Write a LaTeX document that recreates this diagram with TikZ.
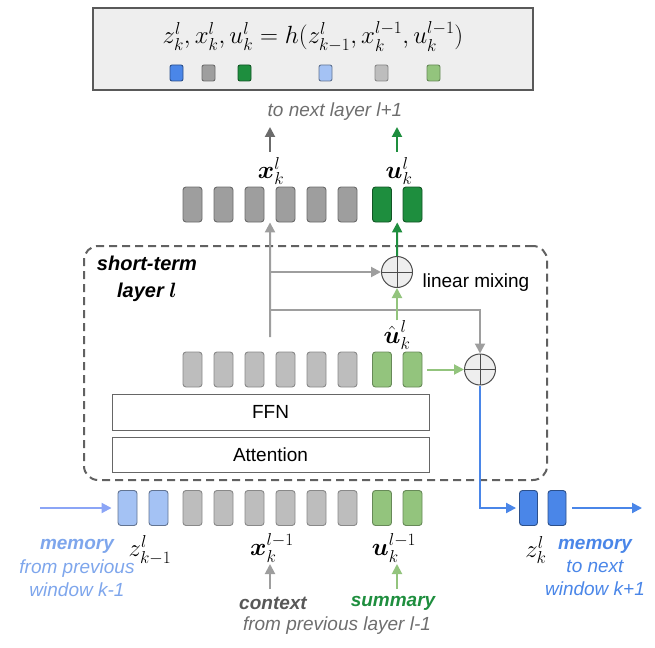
\documentclass[tikz,border=0pt]{standalone}
\usepackage{amsmath,amssymb}
\usepackage{fontspec}
\setmainfont{Liberation Sans}
\usepackage{tikz}
\usetikzlibrary{arrows.meta, positioning, calc}
\definecolor{grisCel}{HTML}{9E9E9E}
\definecolor{grisClaro}{HTML}{BDBDBD}
\definecolor{grisBorde}{HTML}{6B6B6B}
\definecolor{grisTexto}{HTML}{6E6E6E}
\definecolor{verdeOsc}{HTML}{1E8E3E}
\definecolor{verdeClaro}{HTML}{93C47D}
\definecolor{azulOsc}{HTML}{4A86E8}
\definecolor{azulClaro}{HTML}{A4C2F4}
\definecolor{azulTexto}{HTML}{7EA6EC}
\definecolor{fondoGris}{HTML}{EEEEEE}

\begin{document}
\begin{tikzpicture}[x=1pt, y=-1pt,
  txt/.style={font=\fontsize{19}{23.5}\selectfont, inner sep=0pt, align=center},
  mathlbl/.style={font=\fontsize{24}{28}\selectfont, inner sep=0pt},
  cell/.style={rectangle, rounded corners=3pt, minimum width=19pt,
               minimum height=35pt, inner sep=0pt, line width=0.9pt},
  cgris/.style={cell, fill=grisCel, draw=grisBorde},
  cgrisL/.style={cell, fill=grisClaro, draw=grisBorde!80},
  cverde/.style={cell, fill=verdeOsc, draw=verdeOsc!60!black},
  cverdeL/.style={cell, fill=verdeClaro, draw=verdeClaro!70!black},
  cazul/.style={cell, fill=azulOsc, draw=azulOsc!60!black},
  cazulL/.style={cell, fill=azulClaro, draw=azulClaro!60!black},
  mini/.style={minimum width=13pt, minimum height=16pt, rounded corners=2pt},
  capa/.style={rectangle, draw=white!40!black, fill=white, line width=0.9pt,
               font=\fontsize{19}{23}\selectfont},
  mixer/.style={circle, draw=black!70, fill=fondoGris, minimum size=31pt,
                inner sep=0pt, line width=1pt,
                path picture={\draw[black!70, line width=1pt]
                  (path picture bounding box.north) -- (path picture bounding box.south)
                  (path picture bounding box.west) -- (path picture bounding box.east);}},
  arrow/.style={-{Triangle[length=10pt, width=10pt]}, line width=2pt}
]
\useasboundingbox (0,0) rectangle (655,647);

% Ecuacion (arriba)
\node[rectangle, draw=black!65, fill=fondoGris, line width=2pt,
      minimum width=440pt, minimum height=82pt] (ecu) at (313,49) {};
\node[mathlbl, font=\fontsize{25}{29}\selectfont] (formula) at (313,37)
  {$z^l_k, x^l_k, u^l_k = h(z^l_{k-1}, x^{l-1}_k, u^{l-1}_k)$};
\foreach \n/\x/\s in {1/176.5/cazul, 2/208.5/cgris, 3/244.5/cverde,
                      4/325.5/cazulL, 5/381.5/cgrisL, 6/433.5/cverdeL}
  \node[\s, mini] (l\n) at (\x,73) {};

% Capa de corto plazo
\node[rectangle, draw=black!62, dash pattern=on 8pt off 5pt, line width=2pt,
      rounded corners=14pt, minimum width=463pt, minimum height=234pt] (capaL) at (315.5,363) {};
\node[txt, font=\fontsize{20}{27}\selectfont\bfseries\itshape] (nombre) at (147,279)
  {short-term\\layer $\boldsymbol{l}$};
\node[capa, minimum width=317pt, minimum height=36pt] (ffn) at (270.5,412) {FFN};
\node[capa, minimum width=317pt, minimum height=35pt] (att) at (270.5,454.5) {Attention};

% Filas de celdas
\foreach \i/\x in {1/192.5, 2/223.5, 3/254.5, 4/285.5, 5/316.5, 6/347.5} {
  \node[cgris]  (t\i) at (\x,204.5) {};
  \node[cgrisL] (m\i) at (\x,369.5) {};
  \node[cgrisL] (b\i) at (\x,508) {};
}
\foreach \i/\x in {7/382, 8/412.5} {
  \node[cverde]  (t\i) at (\x,204.5) {};
  \node[cverdeL] (m\i) at (\x,369.5) {};
  \node[cverdeL] (b\i) at (\x,508) {};
}
\node[cazulL] (z1) at (127.5,508) {};
\node[cazulL] (z2) at (158.5,508) {};
\node[cazul, minimum width=18pt] (o1) at (528.5,508) {};
\node[cazul, minimum width=18pt] (o2) at (557,508) {};

% Mezcla
\node[mixer] (mix1) at (397,272) {};
\node[mixer] (mix2) at (480,369.5) {};
\node[txt] (mixtxt) at (476,283) {linear mixing};
\node[mathlbl] (uhat) at (397,335) {$\hat{\boldsymbol{u}}^l_k$};

% Etiquetas de salida
\node[mathlbl] (xout) at (271,171) {$\boldsymbol{x}^l_k$};
\node[mathlbl] (uout) at (399,171) {$\boldsymbol{u}^l_k$};
\node[txt, text=grisTexto, font=\fontsize{19}{23}\selectfont\itshape] (sig) at (335,112)
  {to next layer $\mathit{l}$+1};

% Etiquetas de entrada
\node[mathlbl] (zprev) at (150,550) {$z^l_{k-1}$};
\node[mathlbl] (xprev) at (272,548) {$\boldsymbol{x}^{l-1}_k$};
\node[mathlbl] (uprev) at (394,548) {$\boldsymbol{u}^{l-1}_k$};
\node[mathlbl] (znext) at (536,550) {$z^l_k$};
\node[txt, text=grisTexto!80!black, font=\fontsize{19}{23}\selectfont\bfseries\itshape] (ctx) at (273,603) {context};
\node[txt, text=verdeOsc, font=\fontsize{19}{23}\selectfont\bfseries\itshape] (sum) at (393,603) {summary};
\node[txt, text=grisTexto, font=\fontsize{19}{23}\selectfont\itshape] (prevl) at (337,626)
  {from previous layer $\mathit{l}$-1};
\node[txt, text=azulTexto, font=\fontsize{19}{23.5}\selectfont\itshape] (memin) at (77,568)
  {\textbf{memory}\\from previous\\window $\mathit{k}$-1};
\node[txt, text=azulOsc, font=\fontsize{19}{23}\selectfont\itshape] (memout) at (595,567)
  {\textbf{memory}\\to next\\window $\mathit{k}$+1};

% Puntos auxiliares
\coordinate (xs) at (270,337);
\coordinate (j1) at (270,272);
\coordinate (j2) at (270,310);
\coordinate (xin) at ($(t3.south east)!0.5!(t4.south west)$);
\coordinate (uin) at ($(t7.south east)!0.5!(t8.south west)$);
\coordinate (minL) at (40,508);
\coordinate (moutR) at (642,508);
\coordinate (xup) at (270,152);
\coordinate (xtop) at (270,127);
\coordinate (uup) at (397,152);
\coordinate (utop) at (397,127);
\coordinate (cbot) at (270,589);
\coordinate (ctop) at (270,564);
\coordinate (sbot) at (397,589);
\coordinate (stop) at (397,564);

% Flechas internas
\draw[arrow, grisCel] (xs) -- (xin);
\draw[arrow, grisCel] (j1) -- (mix1.west);
\draw[arrow, grisCel] (j2) -| (mix2.north);
\draw[arrow, verdeClaro] (uhat.north) -- (mix1.south);
\draw[arrow, verdeOsc] (mix1.north) -- (uin);
\draw[arrow, verdeClaro] ([xshift=5pt]m8.east) -- (mix2.west);
\draw[arrow, azulOsc] (mix2.south) |- ([xshift=-3pt]o1.west);

% Flechas de entrada y salida
\draw[arrow, grisBorde] (xup) -- (xtop);
\draw[arrow, verdeOsc] (uup) -- (utop);
\draw[arrow, azulClaro!85!blue] (minL) -- ([xshift=-6pt]z1.west);
\draw[arrow, azulOsc] ([xshift=6pt]o2.east) -- (moutR);
\draw[arrow, grisCel] (cbot) -- (ctop);
\draw[arrow, verdeClaro] (sbot) -- (stop);

\end{tikzpicture}
\end{document}
